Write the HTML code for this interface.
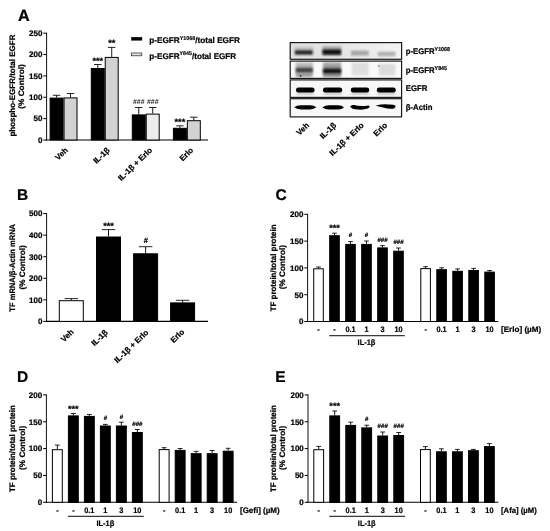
<!DOCTYPE html>
<html lang="en"><head><meta charset="utf-8"><title>Figure</title>
<style>html,body{margin:0;padding:0;background:#fff}body{width:550px;height:531px;overflow:hidden}svg{display:block}text{font-family:'Liberation Sans', Arial, sans-serif;fill:#000;stroke:#000;stroke-width:.22px;text-rendering:geometricPrecision}text.h{stroke:none;fill:#1a1a1a}</style>
</head><body>
<svg width="550" height="531" viewBox="0 0 550 531">
<defs>
<filter id="b3" x="-20%" y="-100%" width="140%" height="300%"><feGaussianBlur stdDeviation="4 2"/></filter>
<filter id="bh" x="-20%" y="-50%" width="140%" height="200%"><feGaussianBlur stdDeviation="0.9 1.1"/></filter>
<filter id="bc" x="-20%" y="-100%" width="140%" height="300%"><feGaussianBlur stdDeviation="0.85 0.85"/></filter>
<filter id="bs" x="-20%" y="-100%" width="140%" height="300%"><feGaussianBlur stdDeviation="0.45 0.4"/></filter>
<filter id="bd" x="-100%" y="-100%" width="300%" height="300%"><feGaussianBlur stdDeviation="0.5"/></filter>
<linearGradient id="sm1" x1="0" y1="0" x2="0" y2="1"><stop offset="0" stop-color="#d2d2d2"/><stop offset="0.35" stop-color="#a4a4a4"/><stop offset="0.7" stop-color="#9a9a9a"/><stop offset="1" stop-color="#b8b8b8"/></linearGradient>
<linearGradient id="sm2" x1="0" y1="0" x2="0" y2="1"><stop offset="0" stop-color="#c4c4c4"/><stop offset="0.35" stop-color="#8e8e8e"/><stop offset="0.75" stop-color="#808080"/><stop offset="1" stop-color="#a8a8a8"/></linearGradient>
<linearGradient id="bg0" x1="0" y1="0" x2="1" y2="0"><stop offset="0" stop-color="#e0e0e0"/><stop offset="0.55" stop-color="#e8e8e8"/><stop offset="1" stop-color="#f3f3f3"/></linearGradient>
</defs>
<rect width="550" height="531" fill="#fff"/>
<text x="17.90" y="20.70" font-size="16.2" text-anchor="start" font-weight="bold">A</text>
<text x="17.00" y="199.90" font-size="15.5" text-anchor="start" font-weight="bold">B</text>
<text x="275.60" y="199.90" font-size="15.5" text-anchor="start" font-weight="bold">C</text>
<text x="17.00" y="382.30" font-size="15.5" text-anchor="start" font-weight="bold">D</text>
<text x="275.30" y="382.30" font-size="15.5" text-anchor="start" font-weight="bold">E</text>
<line x1="46.60" y1="32.70" x2="46.60" y2="140.50" stroke="#111" stroke-width="1.0"/>
<line x1="43.30" y1="140.00" x2="46.60" y2="140.00" stroke="#000" stroke-width="1.0"/>
<text x="42.40" y="142.85" font-size="8.0" text-anchor="end" font-weight="bold">0</text>
<line x1="43.30" y1="118.64" x2="46.60" y2="118.64" stroke="#000" stroke-width="1.0"/>
<text x="42.40" y="121.49" font-size="8.0" text-anchor="end" font-weight="bold">50</text>
<line x1="43.30" y1="97.28" x2="46.60" y2="97.28" stroke="#000" stroke-width="1.0"/>
<text x="42.40" y="100.13" font-size="8.0" text-anchor="end" font-weight="bold">100</text>
<line x1="43.30" y1="75.92" x2="46.60" y2="75.92" stroke="#000" stroke-width="1.0"/>
<text x="42.40" y="78.77" font-size="8.0" text-anchor="end" font-weight="bold">150</text>
<line x1="43.30" y1="54.56" x2="46.60" y2="54.56" stroke="#000" stroke-width="1.0"/>
<text x="42.40" y="57.41" font-size="8.0" text-anchor="end" font-weight="bold">200</text>
<line x1="43.30" y1="33.20" x2="46.60" y2="33.20" stroke="#000" stroke-width="1.0"/>
<text x="42.40" y="36.05" font-size="8.0" text-anchor="end" font-weight="bold">250</text>
<line x1="46.10" y1="140.00" x2="208.00" y2="140.00" stroke="#000" stroke-width="1.1"/>
<line x1="56.58" y1="95.30" x2="56.58" y2="97.60" stroke="#000" stroke-width="0.9"/>
<line x1="52.81" y1="95.30" x2="60.34" y2="95.30" stroke="#000" stroke-width="0.85"/>
<rect x="50.10" y="98.10" width="12.95" height="41.90" fill="#000" stroke="#000" stroke-width="1.0"/>
<line x1="70.52" y1="93.50" x2="70.52" y2="97.40" stroke="#000" stroke-width="0.9"/>
<line x1="66.76" y1="93.50" x2="74.29" y2="93.50" stroke="#000" stroke-width="0.85"/>
<rect x="64.05" y="97.90" width="12.95" height="42.10" fill="#d2d2d2" stroke="#000" stroke-width="1.0"/>
<line x1="97.77" y1="64.50" x2="97.77" y2="68.00" stroke="#000" stroke-width="0.9"/>
<line x1="94.01" y1="64.50" x2="101.54" y2="64.50" stroke="#000" stroke-width="0.85"/>
<rect x="91.30" y="68.50" width="12.95" height="71.50" fill="#000" stroke="#000" stroke-width="1.0"/>
<line x1="111.72" y1="47.40" x2="111.72" y2="56.90" stroke="#000" stroke-width="0.9"/>
<line x1="107.96" y1="47.40" x2="115.49" y2="47.40" stroke="#000" stroke-width="0.85"/>
<rect x="105.25" y="57.40" width="12.95" height="82.60" fill="#d2d2d2" stroke="#000" stroke-width="1.0"/>
<line x1="138.78" y1="107.50" x2="138.78" y2="114.40" stroke="#000" stroke-width="0.9"/>
<line x1="135.01" y1="107.50" x2="142.54" y2="107.50" stroke="#000" stroke-width="0.85"/>
<rect x="132.30" y="114.90" width="12.95" height="25.10" fill="#000" stroke="#000" stroke-width="1.0"/>
<line x1="152.72" y1="107.50" x2="152.72" y2="113.60" stroke="#000" stroke-width="0.9"/>
<line x1="148.96" y1="107.50" x2="156.49" y2="107.50" stroke="#000" stroke-width="0.85"/>
<rect x="146.25" y="114.10" width="12.95" height="25.90" fill="#ececec" stroke="#000" stroke-width="1.0"/>
<line x1="179.88" y1="125.80" x2="179.88" y2="127.80" stroke="#000" stroke-width="0.9"/>
<line x1="176.11" y1="125.80" x2="183.64" y2="125.80" stroke="#000" stroke-width="0.85"/>
<rect x="173.40" y="128.30" width="12.95" height="11.70" fill="#000" stroke="#000" stroke-width="1.0"/>
<line x1="193.82" y1="117.20" x2="193.82" y2="120.20" stroke="#000" stroke-width="0.9"/>
<line x1="190.06" y1="117.20" x2="197.59" y2="117.20" stroke="#000" stroke-width="0.85"/>
<rect x="187.35" y="120.70" width="12.95" height="19.30" fill="#d2d2d2" stroke="#000" stroke-width="1.0"/>
<text x="97.77" y="64.00" font-size="9.2" text-anchor="middle" font-weight="bold">***</text>
<text x="111.72" y="46.10" font-size="9.2" text-anchor="middle" font-weight="bold">**</text>
<text x="138.78" y="103.60" font-size="6.9" text-anchor="middle" font-weight="bold" class="h">###</text>
<text x="152.73" y="103.60" font-size="6.9" text-anchor="middle" font-weight="bold" class="h">###</text>
<text x="179.88" y="125.20" font-size="9.2" text-anchor="middle" font-weight="bold">***</text>
<text x="68.55" y="150.80" font-size="8" text-anchor="end" font-weight="bold" transform="rotate(-44 68.55 150.80)">Veh</text>
<text x="110.15" y="150.80" font-size="8" text-anchor="end" font-weight="bold" transform="rotate(-44 110.15 150.80)">IL-1β</text>
<text x="152.75" y="150.80" font-size="8" text-anchor="end" font-weight="bold" transform="rotate(-44 152.75 150.80)">IL-1β + Erlo</text>
<text x="193.85" y="150.80" font-size="8" text-anchor="end" font-weight="bold" transform="rotate(-44 193.85 150.80)">Erlo</text>
<text x="14.70" y="85.60" font-size="8" text-anchor="middle" font-weight="bold" transform="rotate(-90 14.70 85.60)" textLength="102.00" lengthAdjust="spacingAndGlyphs">phospho-EGFR/total EGFR</text>
<text x="23.70" y="86.50" font-size="8" text-anchor="middle" font-weight="bold" transform="rotate(-90 23.70 86.50)" textLength="44.40" lengthAdjust="spacingAndGlyphs">(% Control)</text>
<rect x="131.50" y="37.30" width="10.40" height="2.90" fill="#000" stroke="#000" stroke-width="0.5"/>
<rect x="131.60" y="53.00" width="10.20" height="2.80" fill="#e2e2e2" stroke="#222" stroke-width="0.7"/>
<text x="149.3" y="43.3" font-size="8.4" font-weight="bold" textLength="90.6" lengthAdjust="spacingAndGlyphs">p-EGFR<tspan dy="-3.4" font-size="5.5" stroke-width="0.16">Y1068</tspan><tspan dy="3.4">/total EGFR</tspan></text>
<text x="149.3" y="58.5" font-size="8.4" font-weight="bold" textLength="86.9" lengthAdjust="spacingAndGlyphs">p-EGFR<tspan dy="-3.4" font-size="5.5" stroke-width="0.16">Y845</tspan><tspan dy="3.4">/total EGFR</tspan></text>
<clipPath id="c0"><rect x="290.2" y="42.6" width="111.4" height="16.7"/></clipPath>
<rect x="290.2" y="42.6" width="111.4" height="16.7" fill="url(#bg0)"/>
<clipPath id="c1"><rect x="290.2" y="61.1" width="111.4" height="17.3"/></clipPath>
<rect x="290.2" y="61.1" width="111.4" height="17.3" fill="#fafafa"/>
<clipPath id="c2"><rect x="290.2" y="79.9" width="111.4" height="17.5"/></clipPath>
<rect x="290.2" y="79.9" width="111.4" height="17.5" fill="#f7f7f7"/>
<clipPath id="c3"><rect x="290.2" y="98.7" width="111.4" height="18.2"/></clipPath>
<rect x="290.2" y="98.7" width="111.4" height="18.2" fill="#f7f7f7"/>
<g clip-path="url(#c0)">
<rect x="294.5" y="46.8" width="18.50" height="8.20" rx="0" fill="#c2c2c2" filter="url(#bh)"/>
<rect x="295.0" y="50.4" width="17.60" height="4.10" rx="0" fill="#242424" filter="url(#bc)"/>
<rect x="322.3" y="46.2" width="19.00" height="9.20" rx="0" fill="#a8a8a8" filter="url(#bh)"/>
<rect x="322.6" y="49.6" width="18.40" height="5.00" rx="0" fill="#080808" filter="url(#bc)"/>
<rect x="351.0" y="50.6" width="17.60" height="5.00" rx="0" fill="#a6a6a6" filter="url(#bh)"/>
<rect x="377.8" y="51.8" width="17.60" height="4.40" rx="0" fill="#b0b0b0" filter="url(#bh)"/>
</g>
<g clip-path="url(#c1)">
<rect x="295.6" y="62.0" width="17.30" height="14.80" rx="0" fill="url(#sm1)" filter="url(#bh)"/>
<rect x="296.0" y="68.2" width="16.60" height="3.80" rx="0" fill="#3a3a3a" filter="url(#bc)"/>
<rect x="296.5" y="74.4" width="14.50" height="1.50" rx="0" fill="#8a8a8a" filter="url(#bc)"/>
<circle cx="300.6" cy="75.9" r="0.9" fill="#333"/>
<rect x="323.0" y="61.8" width="18.20" height="15.00" rx="0" fill="url(#sm2)" filter="url(#bh)"/>
<rect x="323.2" y="68.9" width="17.80" height="4.20" rx="0" fill="#101010" filter="url(#bc)"/>
<rect x="323.5" y="74.6" width="17.00" height="1.40" rx="0" fill="#777" filter="url(#bc)"/>
<rect x="351.5" y="62.6" width="17.10" height="13.00" rx="0" fill="#dedede" filter="url(#bh)"/>
<rect x="378.8" y="64.0" width="16.60" height="11.60" rx="0" fill="#dcdcdc" filter="url(#bh)"/>
<circle cx="378.8" cy="65.9" r="1.0" fill="#999" filter="url(#bd)"/>
</g>
<g clip-path="url(#c2)">
<rect x="296.5" y="92.0" width="17.60" height="2.60" rx="0" fill="#c4c4c4" filter="url(#bc)"/>
<rect x="296.0" y="87.5" width="18.60" height="5.10" rx="2.4" fill="#000" filter="url(#bs)"/>
<rect x="323.5" y="92.0" width="18.20" height="2.60" rx="0" fill="#c4c4c4" filter="url(#bc)"/>
<rect x="323.0" y="87.5" width="19.20" height="5.10" rx="2.4" fill="#000" filter="url(#bs)"/>
<rect x="351.3" y="92.0" width="17.40" height="2.60" rx="0" fill="#c4c4c4" filter="url(#bc)"/>
<rect x="350.8" y="87.5" width="18.40" height="5.10" rx="2.4" fill="#000" filter="url(#bs)"/>
<rect x="377.3" y="92.0" width="18.00" height="2.60" rx="0" fill="#c4c4c4" filter="url(#bc)"/>
<rect x="376.8" y="87.5" width="19.00" height="5.10" rx="2.4" fill="#000" filter="url(#bs)"/>
</g>
<g clip-path="url(#c3)">
<path d="M294.2 107.3 Q296.5 105.3 301 105.15 L310 105.15 Q314.2 105.3 316.4 107.3 Q314.2 109.35 310 109.45 L301 109.45 Q296.5 109.35 294.2 107.3Z" fill="#000" filter="url(#bs)"/>
<path d="M322.4 107.4 Q324.8 105.4 329 105.3 L338 105.3 Q342 105.4 344 107.4 Q342 109.4 338 109.5 L329 109.5 Q324.8 109.4 322.4 107.4Z" fill="#000" filter="url(#bs)"/>
<path d="M350.2 106.6 Q351 104.6 354 105.0 Q360 106.6 368.6 105.4 Q370 105.6 369.4 107.6 Q366 110.0 358 109.6 Q351.5 109.4 350.2 106.6Z" fill="#000" filter="url(#bs)"/>
<path d="M375.8 105.4 Q382 104.0 388 104.4 Q394 104.2 395.4 105.6 Q396 108.2 393 108.8 Q388 109.2 383 107.4 Q378 106.4 375.8 105.4Z" fill="#000" filter="url(#bs)"/>
</g>
<rect x="290.2" y="42.6" width="111.4" height="16.7" fill="none" stroke="#1a1a1a" stroke-width="1.2"/>
<rect x="290.2" y="61.1" width="111.4" height="17.3" fill="none" stroke="#1a1a1a" stroke-width="1.2"/>
<rect x="290.2" y="79.9" width="111.4" height="17.5" fill="none" stroke="#1a1a1a" stroke-width="1.2"/>
<rect x="290.2" y="98.7" width="111.4" height="18.2" fill="none" stroke="#1a1a1a" stroke-width="1.2"/>
<text transform="translate(405.8 53.9) scale(0.945,1)" font-size="8.2" font-weight="bold">p-EGFR<tspan dy="-2.9" font-size="5.6" stroke-width="0.18">Y1068</tspan></text>
<text transform="translate(405.8 72.6) scale(0.945,1)" font-size="8.2" font-weight="bold">p-EGFR<tspan dy="-2.9" font-size="5.6" stroke-width="0.18">Y845</tspan></text>
<text transform="translate(405.80 91.30) scale(0.945,1)" font-size="8.2" text-anchor="start" font-weight="bold">EGFR</text>
<text transform="translate(405.80 110.20) scale(0.945,1)" font-size="8.2" text-anchor="start" font-weight="bold">β-Actin</text>
<text x="309.80" y="126.00" font-size="8" text-anchor="end" font-weight="bold" transform="rotate(-43.5 309.80 126.00)">Veh</text>
<text x="336.80" y="126.00" font-size="8" text-anchor="end" font-weight="bold" transform="rotate(-43.5 336.80 126.00)">IL-1β</text>
<text x="364.30" y="126.00" font-size="8" text-anchor="end" font-weight="bold" transform="rotate(-43.5 364.30 126.00)">IL-1β + Erlo</text>
<text x="387.80" y="126.00" font-size="8" text-anchor="end" font-weight="bold" transform="rotate(-43.5 387.80 126.00)">Erlo</text>
<line x1="46.60" y1="213.10" x2="46.60" y2="321.90" stroke="#111" stroke-width="1.0"/>
<line x1="43.30" y1="321.40" x2="46.60" y2="321.40" stroke="#000" stroke-width="1.0"/>
<text x="42.40" y="324.25" font-size="8.0" text-anchor="end" font-weight="bold">0</text>
<line x1="43.30" y1="299.84" x2="46.60" y2="299.84" stroke="#000" stroke-width="1.0"/>
<text x="42.40" y="302.69" font-size="8.0" text-anchor="end" font-weight="bold">100</text>
<line x1="43.30" y1="278.28" x2="46.60" y2="278.28" stroke="#000" stroke-width="1.0"/>
<text x="42.40" y="281.13" font-size="8.0" text-anchor="end" font-weight="bold">200</text>
<line x1="43.30" y1="256.72" x2="46.60" y2="256.72" stroke="#000" stroke-width="1.0"/>
<text x="42.40" y="259.57" font-size="8.0" text-anchor="end" font-weight="bold">300</text>
<line x1="43.30" y1="235.16" x2="46.60" y2="235.16" stroke="#000" stroke-width="1.0"/>
<text x="42.40" y="238.01" font-size="8.0" text-anchor="end" font-weight="bold">400</text>
<line x1="43.30" y1="213.60" x2="46.60" y2="213.60" stroke="#000" stroke-width="1.0"/>
<text x="42.40" y="216.45" font-size="8.0" text-anchor="end" font-weight="bold">500</text>
<line x1="46.10" y1="321.40" x2="208.00" y2="321.40" stroke="#000" stroke-width="1.1"/>
<line x1="71.30" y1="298.60" x2="71.30" y2="300.20" stroke="#000" stroke-width="0.9"/>
<line x1="64.55" y1="298.60" x2="78.05" y2="298.60" stroke="#000" stroke-width="0.85"/>
<rect x="59.30" y="300.70" width="24.00" height="20.70" fill="#fff" stroke="#000" stroke-width="1.0"/>
<line x1="108.50" y1="229.60" x2="108.50" y2="236.50" stroke="#000" stroke-width="0.9"/>
<line x1="101.75" y1="229.60" x2="115.25" y2="229.60" stroke="#000" stroke-width="0.85"/>
<rect x="96.50" y="237.00" width="24.00" height="84.40" fill="#000" stroke="#000" stroke-width="1.0"/>
<line x1="145.60" y1="246.70" x2="145.60" y2="253.30" stroke="#000" stroke-width="0.9"/>
<line x1="138.85" y1="246.70" x2="152.35" y2="246.70" stroke="#000" stroke-width="0.85"/>
<rect x="133.60" y="253.80" width="24.00" height="67.60" fill="#000" stroke="#000" stroke-width="1.0"/>
<line x1="182.60" y1="300.30" x2="182.60" y2="302.40" stroke="#000" stroke-width="0.9"/>
<line x1="175.85" y1="300.30" x2="189.35" y2="300.30" stroke="#000" stroke-width="0.85"/>
<rect x="170.60" y="302.90" width="24.00" height="18.50" fill="#000" stroke="#000" stroke-width="1.0"/>
<text x="108.50" y="228.90" font-size="9.2" text-anchor="middle" font-weight="bold">***</text>
<text x="145.80" y="242.60" font-size="7.6" text-anchor="middle" font-weight="bold">#</text>
<text x="74.30" y="332.50" font-size="8" text-anchor="end" font-weight="bold" transform="rotate(-44 74.30 332.50)">Veh</text>
<text x="108.30" y="333.00" font-size="8" text-anchor="end" font-weight="bold" transform="rotate(-44 108.30 333.00)">IL-1β</text>
<text x="149.00" y="333.00" font-size="8" text-anchor="end" font-weight="bold" transform="rotate(-44 149.00 333.00)">IL-1β + Erlo</text>
<text x="184.90" y="332.50" font-size="8" text-anchor="end" font-weight="bold" transform="rotate(-44 184.90 332.50)">Erlo</text>
<text x="15.50" y="267.80" font-size="8" text-anchor="middle" font-weight="bold" transform="rotate(-90 15.50 267.80)" textLength="87.70" lengthAdjust="spacingAndGlyphs">TF mRNA/β-Actin mRNA</text>
<text x="24.90" y="267.40" font-size="8" text-anchor="middle" font-weight="bold" transform="rotate(-90 24.90 267.40)" textLength="44.20" lengthAdjust="spacingAndGlyphs">(% Control)</text>
<line x1="307.60" y1="213.80" x2="307.60" y2="322.00" stroke="#111" stroke-width="1.0"/>
<line x1="304.30" y1="321.50" x2="307.60" y2="321.50" stroke="#000" stroke-width="1.0"/>
<text x="303.40" y="324.35" font-size="8.0" text-anchor="end" font-weight="bold">0</text>
<line x1="304.30" y1="294.70" x2="307.60" y2="294.70" stroke="#000" stroke-width="1.0"/>
<text x="303.40" y="297.55" font-size="8.0" text-anchor="end" font-weight="bold">50</text>
<line x1="304.30" y1="267.90" x2="307.60" y2="267.90" stroke="#000" stroke-width="1.0"/>
<text x="303.40" y="270.75" font-size="8.0" text-anchor="end" font-weight="bold">100</text>
<line x1="304.30" y1="241.10" x2="307.60" y2="241.10" stroke="#000" stroke-width="1.0"/>
<text x="303.40" y="243.95" font-size="8.0" text-anchor="end" font-weight="bold">150</text>
<line x1="304.30" y1="214.30" x2="307.60" y2="214.30" stroke="#000" stroke-width="1.0"/>
<text x="303.40" y="217.15" font-size="8.0" text-anchor="end" font-weight="bold">200</text>
<line x1="307.10" y1="321.50" x2="498.30" y2="321.50" stroke="#000" stroke-width="1.1"/>
<line x1="318.50" y1="267.00" x2="318.50" y2="268.30" stroke="#000" stroke-width="0.9"/>
<line x1="316.17" y1="267.00" x2="320.83" y2="267.00" stroke="#000" stroke-width="0.85"/>
<rect x="313.70" y="268.80" width="9.60" height="52.70" fill="#fff" stroke="#000" stroke-width="1.0"/>
<line x1="334.50" y1="233.20" x2="334.50" y2="235.20" stroke="#000" stroke-width="0.9"/>
<line x1="332.17" y1="233.20" x2="336.83" y2="233.20" stroke="#000" stroke-width="0.85"/>
<rect x="329.70" y="235.70" width="9.60" height="85.80" fill="#000" stroke="#000" stroke-width="1.0"/>
<line x1="350.50" y1="241.60" x2="350.50" y2="243.90" stroke="#000" stroke-width="0.9"/>
<line x1="348.17" y1="241.60" x2="352.83" y2="241.60" stroke="#000" stroke-width="0.85"/>
<rect x="345.70" y="244.40" width="9.60" height="77.10" fill="#000" stroke="#000" stroke-width="1.0"/>
<line x1="366.50" y1="241.00" x2="366.50" y2="243.90" stroke="#000" stroke-width="0.9"/>
<line x1="364.17" y1="241.00" x2="368.83" y2="241.00" stroke="#000" stroke-width="0.85"/>
<rect x="361.70" y="244.40" width="9.60" height="77.10" fill="#000" stroke="#000" stroke-width="1.0"/>
<line x1="382.50" y1="245.60" x2="382.50" y2="247.40" stroke="#000" stroke-width="0.9"/>
<line x1="380.17" y1="245.60" x2="384.83" y2="245.60" stroke="#000" stroke-width="0.85"/>
<rect x="377.70" y="247.90" width="9.60" height="73.60" fill="#000" stroke="#000" stroke-width="1.0"/>
<line x1="398.50" y1="248.00" x2="398.50" y2="250.70" stroke="#000" stroke-width="0.9"/>
<line x1="396.17" y1="248.00" x2="400.83" y2="248.00" stroke="#000" stroke-width="0.85"/>
<rect x="393.70" y="251.20" width="9.60" height="70.30" fill="#000" stroke="#000" stroke-width="1.0"/>
<line x1="425.60" y1="266.70" x2="425.60" y2="268.10" stroke="#000" stroke-width="0.9"/>
<line x1="423.27" y1="266.70" x2="427.93" y2="266.70" stroke="#000" stroke-width="0.85"/>
<rect x="420.80" y="268.60" width="9.60" height="52.90" fill="#fff" stroke="#000" stroke-width="1.0"/>
<line x1="441.60" y1="267.80" x2="441.60" y2="269.20" stroke="#000" stroke-width="0.9"/>
<line x1="439.27" y1="267.80" x2="443.93" y2="267.80" stroke="#000" stroke-width="0.85"/>
<rect x="436.80" y="269.70" width="9.60" height="51.80" fill="#000" stroke="#000" stroke-width="1.0"/>
<line x1="457.60" y1="268.90" x2="457.60" y2="270.80" stroke="#000" stroke-width="0.9"/>
<line x1="455.27" y1="268.90" x2="459.93" y2="268.90" stroke="#000" stroke-width="0.85"/>
<rect x="452.80" y="271.30" width="9.60" height="50.20" fill="#000" stroke="#000" stroke-width="1.0"/>
<line x1="473.60" y1="268.40" x2="473.60" y2="270.00" stroke="#000" stroke-width="0.9"/>
<line x1="471.27" y1="268.40" x2="475.93" y2="268.40" stroke="#000" stroke-width="0.85"/>
<rect x="468.80" y="270.50" width="9.60" height="51.00" fill="#000" stroke="#000" stroke-width="1.0"/>
<line x1="489.60" y1="270.50" x2="489.60" y2="271.60" stroke="#000" stroke-width="0.9"/>
<line x1="487.27" y1="270.50" x2="491.93" y2="270.50" stroke="#000" stroke-width="0.85"/>
<rect x="484.80" y="272.10" width="9.60" height="49.40" fill="#000" stroke="#000" stroke-width="1.0"/>
<text x="334.50" y="230.90" font-size="9.2" text-anchor="middle" font-weight="bold">***</text>
<text x="350.50" y="237.20" font-size="6.1" text-anchor="middle" font-weight="bold">#</text>
<text x="366.50" y="237.20" font-size="6.1" text-anchor="middle" font-weight="bold">#</text>
<text x="382.50" y="241.80" font-size="6.1" text-anchor="middle" font-weight="bold">###</text>
<text x="398.50" y="243.60" font-size="6.1" text-anchor="middle" font-weight="bold">###</text>
<text transform="translate(318.50 331.90) scale(0.93,1)" font-size="7.9" text-anchor="middle" font-weight="bold">-</text>
<text transform="translate(334.50 331.90) scale(0.93,1)" font-size="7.9" text-anchor="middle" font-weight="bold">-</text>
<text transform="translate(350.50 331.90) scale(0.93,1)" font-size="7.9" text-anchor="middle" font-weight="bold">0.1</text>
<text transform="translate(366.50 331.90) scale(0.93,1)" font-size="7.9" text-anchor="middle" font-weight="bold">1</text>
<text transform="translate(382.50 331.90) scale(0.93,1)" font-size="7.9" text-anchor="middle" font-weight="bold">3</text>
<text transform="translate(398.50 331.90) scale(0.93,1)" font-size="7.9" text-anchor="middle" font-weight="bold">10</text>
<text transform="translate(425.60 331.90) scale(0.93,1)" font-size="7.9" text-anchor="middle" font-weight="bold">-</text>
<text transform="translate(441.60 331.90) scale(0.93,1)" font-size="7.9" text-anchor="middle" font-weight="bold">0.1</text>
<text transform="translate(457.60 331.90) scale(0.93,1)" font-size="7.9" text-anchor="middle" font-weight="bold">1</text>
<text transform="translate(473.60 331.90) scale(0.93,1)" font-size="7.9" text-anchor="middle" font-weight="bold">3</text>
<text transform="translate(489.60 331.90) scale(0.93,1)" font-size="7.9" text-anchor="middle" font-weight="bold">10</text>
<text x="501.00" y="331.90" font-size="8" text-anchor="start" font-weight="bold" textLength="40.20" lengthAdjust="spacingAndGlyphs">[Erlo] (µM)</text>
<line x1="329.20" y1="335.60" x2="404.80" y2="335.60" stroke="#3a3a3a" stroke-width="1.25"/>
<text transform="translate(366.50 344.90) scale(0.93,1)" font-size="8.0" text-anchor="middle" font-weight="bold">IL-1β</text>
<text x="275.60" y="267.90" font-size="8" text-anchor="middle" font-weight="bold" transform="rotate(-90 275.60 267.90)" textLength="86.80" lengthAdjust="spacingAndGlyphs">TF protein/total protein</text>
<text x="285.00" y="267.10" font-size="8" text-anchor="middle" font-weight="bold" transform="rotate(-90 285.00 267.10)" textLength="44.20" lengthAdjust="spacingAndGlyphs">(% Control)</text>
<line x1="46.40" y1="394.40" x2="46.40" y2="502.80" stroke="#111" stroke-width="1.0"/>
<line x1="43.10" y1="502.30" x2="46.40" y2="502.30" stroke="#000" stroke-width="1.0"/>
<text x="42.20" y="505.15" font-size="8.0" text-anchor="end" font-weight="bold">0</text>
<line x1="43.10" y1="475.45" x2="46.40" y2="475.45" stroke="#000" stroke-width="1.0"/>
<text x="42.20" y="478.30" font-size="8.0" text-anchor="end" font-weight="bold">50</text>
<line x1="43.10" y1="448.60" x2="46.40" y2="448.60" stroke="#000" stroke-width="1.0"/>
<text x="42.20" y="451.45" font-size="8.0" text-anchor="end" font-weight="bold">100</text>
<line x1="43.10" y1="421.75" x2="46.40" y2="421.75" stroke="#000" stroke-width="1.0"/>
<text x="42.20" y="424.60" font-size="8.0" text-anchor="end" font-weight="bold">150</text>
<line x1="43.10" y1="394.90" x2="46.40" y2="394.90" stroke="#000" stroke-width="1.0"/>
<text x="42.20" y="397.75" font-size="8.0" text-anchor="end" font-weight="bold">200</text>
<line x1="45.90" y1="502.30" x2="237.00" y2="502.30" stroke="#000" stroke-width="1.1"/>
<line x1="57.35" y1="445.10" x2="57.35" y2="449.20" stroke="#000" stroke-width="0.9"/>
<line x1="54.95" y1="445.10" x2="59.75" y2="445.10" stroke="#000" stroke-width="0.85"/>
<rect x="52.40" y="449.70" width="9.90" height="52.60" fill="#fff" stroke="#000" stroke-width="1.0"/>
<line x1="73.35" y1="413.50" x2="73.35" y2="415.40" stroke="#000" stroke-width="0.9"/>
<line x1="70.95" y1="413.50" x2="75.75" y2="413.50" stroke="#000" stroke-width="0.85"/>
<rect x="68.40" y="415.90" width="9.90" height="86.40" fill="#000" stroke="#000" stroke-width="1.0"/>
<line x1="89.35" y1="414.50" x2="89.35" y2="415.90" stroke="#000" stroke-width="0.9"/>
<line x1="86.95" y1="414.50" x2="91.75" y2="414.50" stroke="#000" stroke-width="0.85"/>
<rect x="84.40" y="416.40" width="9.90" height="85.90" fill="#000" stroke="#000" stroke-width="1.0"/>
<line x1="105.35" y1="424.40" x2="105.35" y2="425.50" stroke="#000" stroke-width="0.9"/>
<line x1="102.95" y1="424.40" x2="107.75" y2="424.40" stroke="#000" stroke-width="0.85"/>
<rect x="100.40" y="426.00" width="9.90" height="76.30" fill="#000" stroke="#000" stroke-width="1.0"/>
<line x1="121.35" y1="422.20" x2="121.35" y2="425.50" stroke="#000" stroke-width="0.9"/>
<line x1="118.95" y1="422.20" x2="123.75" y2="422.20" stroke="#000" stroke-width="0.85"/>
<rect x="116.40" y="426.00" width="9.90" height="76.30" fill="#000" stroke="#000" stroke-width="1.0"/>
<line x1="137.35" y1="429.50" x2="137.35" y2="432.00" stroke="#000" stroke-width="0.9"/>
<line x1="134.95" y1="429.50" x2="139.75" y2="429.50" stroke="#000" stroke-width="0.85"/>
<rect x="132.40" y="432.50" width="9.90" height="69.80" fill="#000" stroke="#000" stroke-width="1.0"/>
<line x1="164.15" y1="447.70" x2="164.15" y2="449.10" stroke="#000" stroke-width="0.9"/>
<line x1="161.75" y1="447.70" x2="166.55" y2="447.70" stroke="#000" stroke-width="0.85"/>
<rect x="159.20" y="449.60" width="9.90" height="52.70" fill="#fff" stroke="#000" stroke-width="1.0"/>
<line x1="180.15" y1="448.50" x2="180.15" y2="449.90" stroke="#000" stroke-width="0.9"/>
<line x1="177.75" y1="448.50" x2="182.55" y2="448.50" stroke="#000" stroke-width="0.85"/>
<rect x="175.20" y="450.40" width="9.90" height="51.90" fill="#000" stroke="#000" stroke-width="1.0"/>
<line x1="196.15" y1="451.30" x2="196.15" y2="453.20" stroke="#000" stroke-width="0.9"/>
<line x1="193.75" y1="451.30" x2="198.55" y2="451.30" stroke="#000" stroke-width="0.85"/>
<rect x="191.20" y="453.70" width="9.90" height="48.60" fill="#000" stroke="#000" stroke-width="1.0"/>
<line x1="212.15" y1="450.50" x2="212.15" y2="453.20" stroke="#000" stroke-width="0.9"/>
<line x1="209.75" y1="450.50" x2="214.55" y2="450.50" stroke="#000" stroke-width="0.85"/>
<rect x="207.20" y="453.70" width="9.90" height="48.60" fill="#000" stroke="#000" stroke-width="1.0"/>
<line x1="228.15" y1="448.30" x2="228.15" y2="450.70" stroke="#000" stroke-width="0.9"/>
<line x1="225.75" y1="448.30" x2="230.55" y2="448.30" stroke="#000" stroke-width="0.85"/>
<rect x="223.20" y="451.20" width="9.90" height="51.10" fill="#000" stroke="#000" stroke-width="1.0"/>
<text x="73.35" y="412.10" font-size="9.2" text-anchor="middle" font-weight="bold">***</text>
<text x="105.35" y="419.80" font-size="6.1" text-anchor="middle" font-weight="bold">#</text>
<text x="121.35" y="418.50" font-size="6.1" text-anchor="middle" font-weight="bold">#</text>
<text x="137.35" y="425.80" font-size="6.1" text-anchor="middle" font-weight="bold">###</text>
<text transform="translate(57.35 512.70) scale(0.93,1)" font-size="7.9" text-anchor="middle" font-weight="bold">-</text>
<text transform="translate(73.35 512.70) scale(0.93,1)" font-size="7.9" text-anchor="middle" font-weight="bold">-</text>
<text transform="translate(89.35 512.70) scale(0.93,1)" font-size="7.9" text-anchor="middle" font-weight="bold">0.1</text>
<text transform="translate(105.35 512.70) scale(0.93,1)" font-size="7.9" text-anchor="middle" font-weight="bold">1</text>
<text transform="translate(121.35 512.70) scale(0.93,1)" font-size="7.9" text-anchor="middle" font-weight="bold">3</text>
<text transform="translate(137.35 512.70) scale(0.93,1)" font-size="7.9" text-anchor="middle" font-weight="bold">10</text>
<text transform="translate(164.15 512.70) scale(0.93,1)" font-size="7.9" text-anchor="middle" font-weight="bold">-</text>
<text transform="translate(180.15 512.70) scale(0.93,1)" font-size="7.9" text-anchor="middle" font-weight="bold">0.1</text>
<text transform="translate(196.15 512.70) scale(0.93,1)" font-size="7.9" text-anchor="middle" font-weight="bold">1</text>
<text transform="translate(212.15 512.70) scale(0.93,1)" font-size="7.9" text-anchor="middle" font-weight="bold">3</text>
<text transform="translate(228.15 512.70) scale(0.93,1)" font-size="7.9" text-anchor="middle" font-weight="bold">10</text>
<text x="240.00" y="512.70" font-size="8" text-anchor="start" font-weight="bold" textLength="39.60" lengthAdjust="spacingAndGlyphs">[Gefi] (µM)</text>
<line x1="67.90" y1="516.40" x2="143.80" y2="516.40" stroke="#3a3a3a" stroke-width="1.25"/>
<text transform="translate(105.35 525.70) scale(0.93,1)" font-size="8.0" text-anchor="middle" font-weight="bold">IL-1β</text>
<text x="15.50" y="448.60" font-size="8" text-anchor="middle" font-weight="bold" transform="rotate(-90 15.50 448.60)" textLength="86.80" lengthAdjust="spacingAndGlyphs">TF protein/total protein</text>
<text x="24.90" y="447.80" font-size="8" text-anchor="middle" font-weight="bold" transform="rotate(-90 24.90 447.80)" textLength="44.20" lengthAdjust="spacingAndGlyphs">(% Control)</text>
<line x1="308.00" y1="394.40" x2="308.00" y2="502.80" stroke="#111" stroke-width="1.0"/>
<line x1="304.70" y1="502.30" x2="308.00" y2="502.30" stroke="#000" stroke-width="1.0"/>
<text x="303.80" y="505.15" font-size="8.0" text-anchor="end" font-weight="bold">0</text>
<line x1="304.70" y1="475.45" x2="308.00" y2="475.45" stroke="#000" stroke-width="1.0"/>
<text x="303.80" y="478.30" font-size="8.0" text-anchor="end" font-weight="bold">50</text>
<line x1="304.70" y1="448.60" x2="308.00" y2="448.60" stroke="#000" stroke-width="1.0"/>
<text x="303.80" y="451.45" font-size="8.0" text-anchor="end" font-weight="bold">100</text>
<line x1="304.70" y1="421.75" x2="308.00" y2="421.75" stroke="#000" stroke-width="1.0"/>
<text x="303.80" y="424.60" font-size="8.0" text-anchor="end" font-weight="bold">150</text>
<line x1="304.70" y1="394.90" x2="308.00" y2="394.90" stroke="#000" stroke-width="1.0"/>
<text x="303.80" y="397.75" font-size="8.0" text-anchor="end" font-weight="bold">200</text>
<line x1="307.50" y1="502.30" x2="498.30" y2="502.30" stroke="#000" stroke-width="1.1"/>
<line x1="318.70" y1="446.40" x2="318.70" y2="449.20" stroke="#000" stroke-width="0.9"/>
<line x1="316.32" y1="446.40" x2="321.08" y2="446.40" stroke="#000" stroke-width="0.85"/>
<rect x="313.80" y="449.70" width="9.80" height="52.60" fill="#fff" stroke="#000" stroke-width="1.0"/>
<line x1="334.70" y1="411.00" x2="334.70" y2="415.40" stroke="#000" stroke-width="0.9"/>
<line x1="332.32" y1="411.00" x2="337.08" y2="411.00" stroke="#000" stroke-width="0.85"/>
<rect x="329.80" y="415.90" width="9.80" height="86.40" fill="#000" stroke="#000" stroke-width="1.0"/>
<line x1="350.70" y1="422.20" x2="350.70" y2="424.90" stroke="#000" stroke-width="0.9"/>
<line x1="348.32" y1="422.20" x2="353.08" y2="422.20" stroke="#000" stroke-width="0.85"/>
<rect x="345.80" y="425.40" width="9.80" height="76.90" fill="#000" stroke="#000" stroke-width="1.0"/>
<line x1="366.70" y1="425.20" x2="366.70" y2="427.40" stroke="#000" stroke-width="0.9"/>
<line x1="364.32" y1="425.20" x2="369.08" y2="425.20" stroke="#000" stroke-width="0.85"/>
<rect x="361.80" y="427.90" width="9.80" height="74.40" fill="#000" stroke="#000" stroke-width="1.0"/>
<line x1="382.70" y1="432.00" x2="382.70" y2="435.50" stroke="#000" stroke-width="0.9"/>
<line x1="380.32" y1="432.00" x2="385.08" y2="432.00" stroke="#000" stroke-width="0.85"/>
<rect x="377.80" y="436.00" width="9.80" height="66.30" fill="#000" stroke="#000" stroke-width="1.0"/>
<line x1="398.70" y1="432.50" x2="398.70" y2="435.00" stroke="#000" stroke-width="0.9"/>
<line x1="396.32" y1="432.50" x2="401.08" y2="432.50" stroke="#000" stroke-width="0.85"/>
<rect x="393.80" y="435.50" width="9.80" height="66.80" fill="#000" stroke="#000" stroke-width="1.0"/>
<line x1="425.40" y1="446.60" x2="425.40" y2="449.10" stroke="#000" stroke-width="0.9"/>
<line x1="423.02" y1="446.60" x2="427.78" y2="446.60" stroke="#000" stroke-width="0.85"/>
<rect x="420.50" y="449.60" width="9.80" height="52.70" fill="#fff" stroke="#000" stroke-width="1.0"/>
<line x1="441.40" y1="448.80" x2="441.40" y2="451.30" stroke="#000" stroke-width="0.9"/>
<line x1="439.02" y1="448.80" x2="443.78" y2="448.80" stroke="#000" stroke-width="0.85"/>
<rect x="436.50" y="451.80" width="9.80" height="50.50" fill="#000" stroke="#000" stroke-width="1.0"/>
<line x1="457.40" y1="449.40" x2="457.40" y2="451.30" stroke="#000" stroke-width="0.9"/>
<line x1="455.02" y1="449.40" x2="459.78" y2="449.40" stroke="#000" stroke-width="0.85"/>
<rect x="452.50" y="451.80" width="9.80" height="50.50" fill="#000" stroke="#000" stroke-width="1.0"/>
<line x1="473.40" y1="449.40" x2="473.40" y2="450.20" stroke="#000" stroke-width="0.9"/>
<line x1="471.02" y1="449.40" x2="475.78" y2="449.40" stroke="#000" stroke-width="0.85"/>
<rect x="468.50" y="450.70" width="9.80" height="51.60" fill="#000" stroke="#000" stroke-width="1.0"/>
<line x1="489.40" y1="443.60" x2="489.40" y2="446.10" stroke="#000" stroke-width="0.9"/>
<line x1="487.02" y1="443.60" x2="491.78" y2="443.60" stroke="#000" stroke-width="0.85"/>
<rect x="484.50" y="446.60" width="9.80" height="55.70" fill="#000" stroke="#000" stroke-width="1.0"/>
<text x="334.70" y="409.40" font-size="9.2" text-anchor="middle" font-weight="bold">***</text>
<text x="366.70" y="421.30" font-size="6.1" text-anchor="middle" font-weight="bold">#</text>
<text x="382.70" y="427.80" font-size="6.1" text-anchor="middle" font-weight="bold">###</text>
<text x="398.70" y="428.10" font-size="6.1" text-anchor="middle" font-weight="bold">###</text>
<text transform="translate(318.70 512.70) scale(0.93,1)" font-size="7.9" text-anchor="middle" font-weight="bold">-</text>
<text transform="translate(334.70 512.70) scale(0.93,1)" font-size="7.9" text-anchor="middle" font-weight="bold">-</text>
<text transform="translate(350.70 512.70) scale(0.93,1)" font-size="7.9" text-anchor="middle" font-weight="bold">0.1</text>
<text transform="translate(366.70 512.70) scale(0.93,1)" font-size="7.9" text-anchor="middle" font-weight="bold">1</text>
<text transform="translate(382.70 512.70) scale(0.93,1)" font-size="7.9" text-anchor="middle" font-weight="bold">3</text>
<text transform="translate(398.70 512.70) scale(0.93,1)" font-size="7.9" text-anchor="middle" font-weight="bold">10</text>
<text transform="translate(425.40 512.70) scale(0.93,1)" font-size="7.9" text-anchor="middle" font-weight="bold">-</text>
<text transform="translate(441.40 512.70) scale(0.93,1)" font-size="7.9" text-anchor="middle" font-weight="bold">0.1</text>
<text transform="translate(457.40 512.70) scale(0.93,1)" font-size="7.9" text-anchor="middle" font-weight="bold">1</text>
<text transform="translate(473.40 512.70) scale(0.93,1)" font-size="7.9" text-anchor="middle" font-weight="bold">3</text>
<text transform="translate(489.40 512.70) scale(0.93,1)" font-size="7.9" text-anchor="middle" font-weight="bold">10</text>
<text x="501.00" y="512.70" font-size="8" text-anchor="start" font-weight="bold" textLength="35.80" lengthAdjust="spacingAndGlyphs">[Afa] (µM)</text>
<line x1="329.30" y1="516.40" x2="405.10" y2="516.40" stroke="#3a3a3a" stroke-width="1.25"/>
<text transform="translate(366.70 525.70) scale(0.93,1)" font-size="8.0" text-anchor="middle" font-weight="bold">IL-1β</text>
<text x="275.80" y="448.60" font-size="8" text-anchor="middle" font-weight="bold" transform="rotate(-90 275.80 448.60)" textLength="86.80" lengthAdjust="spacingAndGlyphs">TF protein/total protein</text>
<text x="285.20" y="447.80" font-size="8" text-anchor="middle" font-weight="bold" transform="rotate(-90 285.20 447.80)" textLength="44.20" lengthAdjust="spacingAndGlyphs">(% Control)</text>
</svg></body></html>
